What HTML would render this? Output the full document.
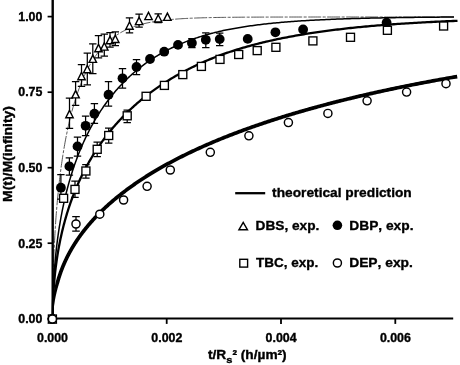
<!DOCTYPE html>
<html><head><meta charset="utf-8"><title>Release kinetics</title>
<style>html,body{margin:0;padding:0;background:#fff}svg{display:block}</style></head>
<body>
<svg width="460" height="365" viewBox="0 0 460 365">
<rect width="460" height="365" fill="#fff"/>
<g fill="none" stroke="#000" stroke-linejoin="round">
<path d="M52.70,318.80 L52.70,317.10 L52.70,315.16 L52.71,313.12 L52.72,311.02 L52.73,308.87 L52.74,306.69 L52.75,304.48 L52.77,302.24 L52.80,299.99 L52.82,297.72 L52.85,295.44 L52.88,293.15 L52.91,290.85 L52.95,288.54 L52.99,286.23 L53.04,283.91 L53.09,281.59 L53.14,279.26 L53.19,276.93 L53.25,274.60 L53.31,272.27 L53.38,269.94 L53.45,267.61 L53.52,265.29 L53.60,262.96 L53.68,260.64 L53.77,258.31 L53.86,256.00 L53.95,253.68 L54.04,251.37 L54.15,249.07 L54.25,246.76 L54.36,244.47 L54.47,242.18 L54.59,239.89 L54.71,237.61 L54.83,235.34 L54.96,233.07 L55.09,230.81 L55.23,228.56 L55.37,226.31 L55.52,224.08 L55.67,221.84 L55.82,219.62 L55.98,217.41 L56.14,215.20 L56.31,213.00 L56.48,210.81 L56.66,208.63 L56.84,206.45 L57.02,204.29 L57.21,202.14 L57.40,199.99 L57.60,197.85 L57.80,195.73 L58.01,193.61 L58.22,191.50 L58.43,189.41 L58.65,187.32 L58.88,185.24 L59.11,183.18 L59.34,181.12 L59.58,179.08 L59.82,177.04 L60.07,175.02 L60.32,173.01 L60.58,171.01 L60.84,169.02 L61.10,167.04 L61.37,165.07 L61.65,163.12 L61.93,161.17 L62.21,159.24 L62.50,157.32 L62.79,155.41 L63.09,153.51 L63.40,151.63 L63.70,149.75 L64.02,147.89 L64.33,146.04 L64.66,144.21 L64.98,142.38 L65.32,140.57 L65.65,138.77 L65.99,136.99 L66.34,135.21 L66.69,133.45 L67.05,131.70 L67.41,129.97 L67.78,128.25 L68.15,126.54 L68.52,124.84 L68.90,123.16 L69.29,121.49 L69.68,119.84 L70.08,118.20 L70.48,116.57 L70.88,114.95 L71.29,113.35 L71.71,111.76 L72.13,110.19 L72.55,108.63 L72.99,107.08 L73.42,105.55 L73.86,104.03 L74.31,102.53 L74.76,101.04 L75.21,99.56 L75.68,98.10 L76.14,96.65 L76.61,95.22 L77.09,93.80 L77.57,92.39 L78.06,91.00 L78.55,89.63 L79.05,88.27 L79.55,86.92 L80.06,85.59 L80.57,84.27 L81.09,82.97 L81.61,81.68 L82.14,80.41 L82.67,79.15 L83.21,77.91 L83.76,76.68 L84.30,75.46 L84.86,74.26 L85.42,73.08 L85.98,71.91 L86.55,70.76 L87.13,69.62 L87.71,68.49 L88.30,67.39 L88.89,66.29 L89.49,65.21 L90.09,64.15 L90.69,63.10 L91.31,62.07 L91.93,61.05 L92.55,60.04 L93.18,59.06 L93.81,58.08 L94.45,57.12 L95.10,56.18 L95.75,55.25 L96.40,54.33 L97.06,53.44 L97.73,52.55 L98.40,51.68 L99.08,50.82 L99.76,49.98 L100.45,49.16 L101.15,48.34 L101.85,47.55 L102.55,46.76 L103.26,45.99 L103.98,45.24 L104.70,44.50 L105.42,43.77 L106.16,43.06 L106.89,42.36 L107.64,41.67 L108.39,41.00 L109.14,40.34 L109.90,39.69 L110.67,39.06 L111.44,38.44 L112.21,37.83 L113.00,37.24 L113.78,36.65 L114.58,36.08 L115.38,35.53 L116.18,34.98 L116.99,34.45 L117.81,33.93 L118.63,33.42 L119.45,32.92 L120.29,32.44 L121.12,31.96 L121.97,31.50 L122.82,31.05 L123.67,30.61 L124.53,30.18 L125.40,29.76 L126.27,29.35 L127.15,28.95 L128.03,28.56 L128.92,28.18 L129.82,27.81 L130.72,27.45 L131.62,27.10 L132.54,26.76 L133.45,26.42 L134.38,26.10 L135.31,25.79 L136.24,25.48 L137.18,25.18 L138.13,24.89 L139.08,24.61 L140.04,24.34 L141.00,24.07 L141.97,23.81 L142.95,23.56 L143.93,23.32 L144.91,23.08 L145.91,22.85 L146.90,22.63 L147.91,22.42 L148.92,22.21 L149.93,22.00 L150.96,21.81 L151.98,21.62 L153.02,21.43 L154.06,21.25 L155.10,21.08 L156.15,20.91 L157.21,20.75 L158.27,20.59 L159.34,20.44 L160.41,20.30 L161.49,20.15 L162.58,20.02 L163.67,19.88 L164.77,19.76 L165.87,19.63 L166.98,19.51 L168.10,19.40 L169.22,19.29 L170.35,19.18 L171.48,19.07 L172.62,18.97 L173.76,18.88 L174.91,18.78 L176.07,18.69 L177.23,18.61 L178.40,18.52 L179.58,18.44 L180.76,18.37 L181.94,18.29 L183.14,18.22 L184.34,18.15 L185.54,18.09 L186.75,18.02 L187.97,17.96 L189.19,17.90 L190.42,17.84 L191.65,17.79 L192.89,17.74 L194.14,17.69 L195.39,17.64 L196.65,17.59 L197.92,17.55 L199.19,17.51 L200.46,17.46 L201.75,17.43 L203.04,17.39 L204.33,17.35 L205.63,17.32 L206.94,17.28 L208.25,17.25 L209.57,17.22 L210.90,17.19 L212.23,17.16 L213.57,17.14 L214.91,17.11 L216.26,17.09 L217.62,17.06 L218.98,17.04 L220.35,17.02 L221.72,17.00 L223.10,16.98 L224.49,16.96 L225.88,16.94 L227.28,16.93 L228.68,16.91 L230.09,16.90 L231.51,16.88 L232.93,16.87 L234.36,16.85 L235.80,16.84 L237.24,16.83 L238.69,16.82 L240.14,16.81 L241.60,16.79 L243.07,16.78 L244.54,16.77 L246.02,16.77 L247.51,16.76 L249.00,16.75 L250.49,16.74 L252.00,16.73 L253.51,16.73 L255.02,16.72 L256.55,16.71 L258.07,16.71 L259.61,16.70 L261.15,16.70 L262.70,16.69 L264.25,16.69 L265.81,16.68 L267.38,16.68 L268.95,16.67 L270.53,16.67 L272.11,16.66 L273.70,16.66 L275.30,16.66 L276.90,16.65 L278.51,16.65 L280.13,16.65 L281.75,16.65 L283.38,16.64 L285.02,16.64 L286.66,16.64 L288.30,16.64 L289.96,16.63 L291.62,16.63 L293.28,16.63 L294.96,16.63 L296.64,16.63 L298.32,16.62 L300.01,16.62 L301.71,16.62 L303.42,16.62 L305.13,16.62 L306.84,16.62 L308.57,16.62 L310.30,16.62 L312.03,16.62 L313.78,16.61 L315.53,16.61 L317.28,16.61 L319.04,16.61 L320.81,16.61 L322.59,16.61 L324.37,16.61 L326.15,16.61 L327.95,16.61 L329.75,16.61 L331.55,16.61 L333.37,16.61 L335.19,16.61 L337.01,16.61 L338.84,16.61 L340.68,16.61 L342.53,16.61 L344.38,16.60 L346.24,16.60 L348.10,16.60 L349.97,16.60 L351.85,16.60 L353.73,16.60 L355.62,16.60 L357.52,16.60 L359.42,16.60 L361.33,16.60 L363.25,16.60 L365.17,16.60 L367.10,16.60 L369.03,16.60 L370.98,16.60 L372.92,16.60 L374.88,16.60 L376.84,16.60 L378.81,16.60 L380.78,16.60 L382.76,16.60 L384.75,16.60 L386.74,16.60 L388.74,16.60 L390.75,16.60 L392.76,16.60 L394.78,16.60 L396.81,16.60 L398.84,16.60 L400.88,16.60 L402.93,16.60 L404.98,16.60 L407.04,16.60 L409.10,16.60 L411.18,16.60 L413.26,16.60 L415.34,16.60 L417.43,16.60 L419.53,16.60 L421.64,16.60 L423.75,16.60 L425.87,16.60 L427.99,16.60 L430.12,16.60 L432.26,16.60 L434.40,16.60 L436.55,16.60 L438.71,16.60 L440.88,16.60 L443.05,16.60 L445.22,16.60 L447.41,16.60 L449.60,16.60 L451.80,16.60 L454.00,16.60" stroke="#2a2a2a" stroke-width="0.8" stroke-dasharray="13 1.5 3 1.5" transform="translate(0,0.4)"/>
<path d="M52.70,318.80 L52.70,317.73 L52.70,316.51 L52.71,315.22 L52.72,313.89 L52.73,312.54 L52.74,311.15 L52.75,309.75 L52.77,308.33 L52.80,306.90 L52.82,305.46 L52.85,304.00 L52.88,302.54 L52.91,301.06 L52.95,299.58 L52.99,298.09 L53.04,296.60 L53.09,295.10 L53.14,293.60 L53.19,292.09 L53.25,290.58 L53.31,289.07 L53.38,287.55 L53.45,286.03 L53.52,284.51 L53.60,282.99 L53.68,281.46 L53.77,279.94 L53.86,278.41 L53.95,276.88 L54.04,275.35 L54.15,273.83 L54.25,272.30 L54.36,270.77 L54.47,269.24 L54.59,267.71 L54.71,266.18 L54.83,264.65 L54.96,263.13 L55.09,261.60 L55.23,260.08 L55.37,258.55 L55.52,257.03 L55.67,255.51 L55.82,253.99 L55.98,252.47 L56.14,250.96 L56.31,249.44 L56.48,247.93 L56.66,246.42 L56.84,244.91 L57.02,243.40 L57.21,241.90 L57.40,240.40 L57.60,238.90 L57.80,237.40 L58.01,235.90 L58.22,234.41 L58.43,232.92 L58.65,231.44 L58.88,229.95 L59.11,228.47 L59.34,226.99 L59.58,225.52 L59.82,224.05 L60.07,222.58 L60.32,221.11 L60.58,219.65 L60.84,218.19 L61.10,216.74 L61.37,215.28 L61.65,213.83 L61.93,212.39 L62.21,210.95 L62.50,209.51 L62.79,208.07 L63.09,206.64 L63.40,205.22 L63.70,203.79 L64.02,202.37 L64.33,200.96 L64.66,199.54 L64.98,198.14 L65.32,196.73 L65.65,195.33 L65.99,193.93 L66.34,192.54 L66.69,191.15 L67.05,189.77 L67.41,188.39 L67.78,187.01 L68.15,185.64 L68.52,184.28 L68.90,182.91 L69.29,181.56 L69.68,180.20 L70.08,178.85 L70.48,177.51 L70.88,176.17 L71.29,174.83 L71.71,173.50 L72.13,172.17 L72.55,170.85 L72.99,169.53 L73.42,168.22 L73.86,166.91 L74.31,165.61 L74.76,164.31 L75.21,163.01 L75.68,161.72 L76.14,160.44 L76.61,159.16 L77.09,157.89 L77.57,156.62 L78.06,155.35 L78.55,154.09 L79.05,152.84 L79.55,151.59 L80.06,150.34 L80.57,149.10 L81.09,147.87 L81.61,146.64 L82.14,145.41 L82.67,144.19 L83.21,142.98 L83.76,141.77 L84.30,140.57 L84.86,139.37 L85.42,138.18 L85.98,136.99 L86.55,135.81 L87.13,134.63 L87.71,133.46 L88.30,132.29 L88.89,131.13 L89.49,129.98 L90.09,128.83 L90.69,127.68 L91.31,126.54 L91.93,125.41 L92.55,124.28 L93.18,123.16 L93.81,122.05 L94.45,120.94 L95.10,119.83 L95.75,118.73 L96.40,117.64 L97.06,116.55 L97.73,115.47 L98.40,114.39 L99.08,113.32 L99.76,112.26 L100.45,111.20 L101.15,110.14 L101.85,109.10 L102.55,108.05 L103.26,107.02 L103.98,105.99 L104.70,104.97 L105.42,103.95 L106.16,102.94 L106.89,101.93 L107.64,100.93 L108.39,99.94 L109.14,98.95 L109.90,97.97 L110.67,97.00 L111.44,96.03 L112.21,95.06 L113.00,94.11 L113.78,93.16 L114.58,92.21 L115.38,91.28 L116.18,90.34 L116.99,89.42 L117.81,88.50 L118.63,87.59 L119.45,86.68 L120.29,85.78 L121.12,84.89 L121.97,84.00 L122.82,83.12 L123.67,82.24 L124.53,81.38 L125.40,80.51 L126.27,79.66 L127.15,78.81 L128.03,77.97 L128.92,77.13 L129.82,76.30 L130.72,75.48 L131.62,74.66 L132.54,73.86 L133.45,73.05 L134.38,72.26 L135.31,71.47 L136.24,70.68 L137.18,69.91 L138.13,69.14 L139.08,68.37 L140.04,67.62 L141.00,66.87 L141.97,66.13 L142.95,65.39 L143.93,64.66 L144.91,63.94 L145.91,63.22 L146.90,62.51 L147.91,61.81 L148.92,61.11 L149.93,60.42 L150.96,59.74 L151.98,59.06 L153.02,58.39 L154.06,57.73 L155.10,57.08 L156.15,56.43 L157.21,55.79 L158.27,55.15 L159.34,54.52 L160.41,53.90 L161.49,53.28 L162.58,52.67 L163.67,52.07 L164.77,51.48 L165.87,50.89 L166.98,50.30 L168.10,49.73 L169.22,49.16 L170.35,48.60 L171.48,48.04 L172.62,47.49 L173.76,46.95 L174.91,46.41 L176.07,45.88 L177.23,45.36 L178.40,44.84 L179.58,44.33 L180.76,43.83 L181.94,43.33 L183.14,42.84 L184.34,42.36 L185.54,41.88 L186.75,41.41 L187.97,40.94 L189.19,40.48 L190.42,40.03 L191.65,39.58 L192.89,39.14 L194.14,38.70 L195.39,38.28 L196.65,37.85 L197.92,37.44 L199.19,37.02 L200.46,36.62 L201.75,36.22 L203.04,35.83 L204.33,35.44 L205.63,35.06 L206.94,34.68 L208.25,34.31 L209.57,33.95 L210.90,33.59 L212.23,33.24 L213.57,32.89 L214.91,32.55 L216.26,32.21 L217.62,31.88 L218.98,31.55 L220.35,31.23 L221.72,30.92 L223.10,30.60 L224.49,30.30 L225.88,30.02 L227.28,29.74 L228.68,29.46 L230.09,29.19 L231.51,28.92 L232.93,28.66 L234.36,28.40 L235.80,28.15 L237.24,27.90 L238.69,27.66 L240.14,27.42 L241.60,27.18 L243.07,26.95 L244.54,26.72 L246.02,26.50 L247.51,26.28 L249.00,26.06 L250.49,25.85 L252.00,25.64 L253.51,25.44 L255.02,25.24 L256.55,25.04 L258.07,24.85 L259.61,24.66 L261.15,24.47 L262.70,24.29 L264.25,24.11 L265.81,23.94 L267.38,23.77 L268.95,23.60 L270.53,23.43 L272.11,23.27 L273.70,23.11 L275.30,22.96 L276.90,22.81 L278.51,22.66 L280.13,22.51 L281.75,22.37 L283.38,22.23 L285.02,22.09 L286.66,21.96 L288.30,21.82 L289.96,21.69 L291.62,21.57 L293.28,21.44 L294.96,21.32 L296.64,21.21 L298.32,21.09 L300.01,20.98 L301.71,20.87 L303.42,20.76 L305.13,20.65 L306.84,20.55 L308.57,20.45 L310.30,20.35 L312.03,20.25 L313.78,20.15 L315.53,20.06 L317.28,19.97 L319.04,19.88 L320.81,19.80 L322.59,19.71 L324.37,19.63 L326.15,19.55 L327.95,19.47 L329.75,19.39 L331.55,19.32 L333.37,19.24 L335.19,19.17 L337.01,19.10 L338.84,19.03 L340.68,18.97 L342.53,18.90 L344.38,18.84 L346.24,18.78 L348.10,18.72 L349.97,18.66 L351.85,18.60 L353.73,18.54 L355.62,18.49 L357.52,18.44 L359.42,18.38 L361.33,18.33 L363.25,18.28 L365.17,18.24 L367.10,18.19 L369.03,18.14 L370.98,18.10 L372.92,18.05 L374.88,18.01 L376.84,17.97 L378.81,17.93 L380.78,17.89 L382.76,17.85 L384.75,17.82 L386.74,17.78 L388.74,17.75 L390.75,17.71 L392.76,17.68 L394.78,17.65 L396.81,17.61 L398.84,17.58 L400.88,17.55 L402.93,17.52 L404.98,17.50 L407.04,17.47 L409.10,17.44 L411.18,17.42 L413.26,17.39 L415.34,17.37 L417.43,17.34 L419.53,17.32 L421.64,17.30 L423.75,17.27 L425.87,17.25 L427.99,17.23 L430.12,17.21 L432.26,17.19 L434.40,17.17 L436.55,17.16 L438.71,17.14 L440.88,17.12 L443.05,17.10 L445.22,17.09 L447.41,17.07 L449.60,17.06 L451.80,17.04 L454.00,17.03" stroke-width="1.5"/>
<path d="M52.70,318.80 L52.70,317.95 L52.70,316.97 L52.71,315.94 L52.72,314.88 L52.73,313.80 L52.74,312.70 L52.76,311.58 L52.77,310.44 L52.80,309.29 L52.82,308.14 L52.85,306.97 L52.88,305.80 L52.92,304.61 L52.95,303.42 L53.00,302.23 L53.04,301.03 L53.09,299.83 L53.14,298.62 L53.20,297.40 L53.26,296.19 L53.32,294.97 L53.39,293.74 L53.46,292.52 L53.53,291.29 L53.61,290.06 L53.69,288.83 L53.78,287.59 L53.87,286.36 L53.96,285.12 L54.06,283.88 L54.16,282.64 L54.26,281.40 L54.37,280.16 L54.49,278.91 L54.60,277.67 L54.73,276.43 L54.85,275.18 L54.98,273.94 L55.12,272.69 L55.25,271.45 L55.40,270.21 L55.54,268.96 L55.69,267.72 L55.85,266.47 L56.01,265.23 L56.17,263.99 L56.34,262.75 L56.51,261.50 L56.69,260.26 L56.87,259.02 L57.06,257.78 L57.25,256.54 L57.44,255.31 L57.64,254.07 L57.85,252.83 L58.05,251.60 L58.27,250.37 L58.48,249.14 L58.71,247.90 L58.93,246.67 L59.16,245.45 L59.40,244.22 L59.64,242.99 L59.88,241.77 L60.13,240.55 L60.39,239.33 L60.64,238.11 L60.91,236.89 L61.18,235.68 L61.45,234.46 L61.73,233.25 L62.01,232.04 L62.29,230.83 L62.59,229.62 L62.88,228.42 L63.18,227.22 L63.49,226.02 L63.80,224.82 L64.12,223.62 L64.44,222.43 L64.76,221.23 L65.09,220.04 L65.43,218.85 L65.77,217.67 L66.11,216.48 L66.46,215.30 L66.81,214.12 L67.17,212.95 L67.54,211.77 L67.91,210.60 L68.28,209.43 L68.66,208.26 L69.04,207.10 L69.43,205.93 L69.83,204.77 L70.23,203.62 L70.63,202.46 L71.04,201.31 L71.45,200.16 L71.87,199.01 L72.30,197.87 L72.73,196.72 L73.16,195.58 L73.60,194.45 L74.05,193.31 L74.50,192.18 L74.95,191.05 L75.41,189.93 L75.88,188.80 L76.35,187.68 L76.82,186.56 L77.30,185.45 L77.79,184.34 L78.28,183.23 L78.78,182.12 L79.28,181.02 L79.78,179.92 L80.30,178.82 L80.81,177.73 L81.34,176.64 L81.86,175.55 L82.40,174.46 L82.93,173.38 L83.48,172.30 L84.03,171.22 L84.58,170.15 L85.14,169.08 L85.70,168.01 L86.27,166.95 L86.85,165.89 L87.43,164.83 L88.02,163.77 L88.61,162.72 L89.20,161.67 L89.81,160.63 L90.41,159.59 L91.03,158.55 L91.64,157.51 L92.27,156.48 L92.90,155.45 L93.53,154.43 L94.17,153.41 L94.82,152.39 L95.47,151.37 L96.12,150.36 L96.78,149.35 L97.45,148.35 L98.12,147.34 L98.80,146.34 L99.49,145.35 L100.17,144.36 L100.87,143.37 L101.57,142.38 L102.27,141.40 L102.98,140.43 L103.70,139.45 L104.42,138.48 L105.15,137.51 L105.88,136.55 L106.62,135.59 L107.37,134.63 L108.12,133.68 L108.87,132.73 L109.63,131.78 L110.40,130.84 L111.17,129.90 L111.95,128.97 L112.73,128.04 L113.52,127.11 L114.32,126.18 L115.12,125.26 L115.92,124.35 L116.73,123.43 L117.55,122.52 L118.37,121.62 L119.20,120.72 L120.04,119.82 L120.88,118.93 L121.72,118.03 L122.57,117.15 L123.43,116.27 L124.29,115.39 L125.16,114.51 L126.03,113.64 L126.91,112.77 L127.80,111.91 L128.69,111.05 L129.59,110.19 L130.49,109.34 L131.40,108.49 L132.31,107.65 L133.23,106.81 L134.16,105.97 L135.09,105.14 L136.03,104.31 L136.97,103.49 L137.92,102.67 L138.87,101.85 L139.83,101.04 L140.80,100.23 L141.77,99.42 L142.75,98.62 L143.73,97.83 L144.72,97.03 L145.72,96.25 L146.72,95.46 L147.73,94.68 L148.74,93.91 L149.76,93.13 L150.78,92.37 L151.81,91.60 L152.85,90.84 L153.89,90.09 L154.94,89.34 L155.99,88.59 L157.05,87.85 L158.12,87.11 L159.19,86.37 L160.27,85.64 L161.35,84.92 L162.44,84.20 L163.54,83.48 L164.64,82.77 L165.75,82.06 L166.86,81.35 L167.98,80.65 L169.10,79.95 L170.23,79.26 L171.37,78.58 L172.51,77.89 L173.66,77.21 L174.82,76.54 L175.98,75.87 L177.15,75.20 L178.32,74.54 L179.50,73.88 L180.68,73.23 L181.87,72.58 L183.07,71.94 L184.27,71.30 L185.48,70.66 L186.70,70.03 L187.92,69.40 L189.15,68.78 L190.38,68.16 L191.62,67.55 L192.87,66.94 L194.12,66.34 L195.37,65.74 L196.64,65.14 L197.91,64.55 L199.18,63.96 L200.47,63.38 L201.75,62.80 L203.05,62.23 L204.35,61.66 L205.65,61.09 L206.97,60.53 L208.29,59.98 L209.61,59.43 L210.94,58.88 L212.28,58.34 L213.62,57.80 L214.97,57.26 L216.32,56.74 L217.69,56.21 L219.05,55.69 L220.43,55.17 L221.81,54.66 L223.19,54.16 L224.59,53.66 L225.98,53.17 L227.39,52.70 L228.80,52.22 L230.22,51.75 L231.64,51.29 L233.07,50.82 L234.51,50.37 L235.95,49.91 L237.40,49.47 L238.85,49.02 L240.31,48.58 L241.78,48.14 L243.25,47.71 L244.73,47.28 L246.21,46.86 L247.71,46.44 L249.20,46.03 L250.71,45.62 L252.22,45.21 L253.74,44.81 L255.26,44.41 L256.79,44.01 L258.32,43.62 L259.87,43.23 L261.41,42.85 L262.97,42.47 L264.53,42.10 L266.10,41.73 L267.67,41.36 L269.25,41.00 L270.83,40.64 L272.43,40.28 L274.02,39.93 L275.63,39.59 L277.24,39.24 L278.86,38.90 L280.48,38.57 L282.11,38.24 L283.75,37.91 L285.39,37.58 L287.04,37.26 L288.70,36.95 L290.36,36.63 L292.03,36.32 L293.70,36.02 L295.38,35.72 L297.07,35.42 L298.76,35.12 L300.46,34.83 L302.17,34.54 L303.88,34.26 L305.60,33.98 L307.33,33.70 L309.06,33.42 L310.80,33.15 L312.54,32.89 L314.30,32.62 L316.05,32.36 L317.82,32.10 L319.59,31.85 L321.37,31.60 L323.15,31.35 L324.94,31.11 L326.74,30.87 L328.54,30.63 L330.35,30.39 L332.16,30.16 L333.99,29.93 L335.81,29.71 L337.65,29.49 L339.49,29.27 L341.34,29.05 L343.19,28.84 L345.06,28.63 L346.92,28.42 L348.80,28.21 L350.68,28.01 L352.56,27.81 L354.46,27.62 L356.36,27.42 L358.26,27.23 L360.18,27.04 L362.10,26.86 L364.02,26.68 L365.96,26.50 L367.89,26.32 L369.84,26.14 L371.79,25.97 L373.75,25.80 L375.72,25.63 L377.69,25.47 L379.67,25.31 L381.65,25.15 L383.64,24.99 L385.64,24.84 L387.65,24.68 L389.66,24.53 L391.67,24.39 L393.70,24.24 L395.73,24.10 L397.77,23.96 L399.81,23.82 L401.86,23.68 L403.92,23.55 L405.98,23.41 L408.05,23.28 L410.13,23.15 L412.21,23.03 L414.30,22.90 L416.40,22.78 L418.50,22.66 L420.61,22.54 L422.73,22.43 L424.85,22.31 L426.98,22.20 L429.12,22.09 L431.26,21.98 L433.41,21.88 L435.57,21.77 L437.73,21.67 L439.90,21.57 L442.08,21.47 L444.26,21.37 L446.45,21.27 L448.65,21.18 L450.85,21.08 L453.06,20.99 L455.28,20.90 L457.50,20.81" stroke-width="2.3"/>
<path d="M53.40,318.80 L53.40,318.43 L53.40,318.01 L53.41,317.56 L53.41,317.10 L53.42,316.63 L53.42,316.15 L53.43,315.66 L53.45,315.17 L53.46,314.67 L53.47,314.16 L53.49,313.65 L53.51,313.14 L53.53,312.62 L53.55,312.10 L53.58,311.57 L53.61,311.05 L53.64,310.52 L53.67,309.98 L53.70,309.45 L53.74,308.91 L53.78,308.37 L53.82,307.83 L53.86,307.28 L53.92,306.74 L53.99,306.19 L54.07,305.64 L54.15,305.10 L54.23,304.55 L54.31,304.00 L54.39,303.44 L54.48,302.89 L54.57,302.34 L54.66,301.78 L54.76,301.23 L54.85,300.67 L54.95,300.11 L55.06,299.55 L55.16,298.99 L55.27,298.44 L55.38,297.88 L55.49,297.31 L55.60,296.75 L55.72,296.19 L55.84,295.63 L55.96,295.07 L56.09,294.50 L56.22,293.94 L56.35,293.38 L56.48,292.81 L56.62,292.25 L56.76,291.68 L56.90,291.12 L57.04,290.55 L57.19,289.99 L57.34,289.42 L57.49,288.86 L57.64,288.29 L57.80,287.72 L57.96,287.16 L58.12,286.59 L58.29,286.02 L58.46,285.46 L58.63,284.89 L58.80,284.32 L58.98,283.76 L59.16,283.19 L59.34,282.63 L59.50,282.05 L59.66,281.48 L59.83,280.91 L60.00,280.33 L60.17,279.76 L60.34,279.18 L60.51,278.61 L60.69,278.03 L60.87,277.46 L61.06,276.88 L61.25,276.31 L61.44,275.73 L61.63,275.16 L61.83,274.58 L62.03,274.01 L62.23,273.43 L62.43,272.86 L62.64,272.28 L62.85,271.71 L63.06,271.13 L63.28,270.56 L63.50,269.98 L63.72,269.41 L63.95,268.83 L64.18,268.26 L64.41,267.69 L64.65,267.11 L64.88,266.54 L65.12,265.96 L65.37,265.39 L65.62,264.81 L65.87,264.24 L66.12,263.66 L66.37,263.09 L66.63,262.52 L66.90,261.94 L67.16,261.37 L67.43,260.80 L67.70,260.22 L67.98,259.65 L68.25,259.08 L68.53,258.50 L68.82,257.93 L69.11,257.36 L69.40,256.79 L69.69,256.22 L69.99,255.64 L70.29,255.07 L70.59,254.50 L70.89,253.93 L71.20,253.36 L71.52,252.79 L71.83,252.22 L72.15,251.65 L72.47,251.08 L72.80,250.51 L73.12,249.94 L73.46,249.37 L73.79,248.80 L74.13,248.23 L74.47,247.66 L74.81,247.10 L75.16,246.53 L75.51,245.96 L75.87,245.39 L76.22,244.83 L76.58,244.26 L76.95,243.69 L77.32,243.13 L77.69,242.56 L78.06,242.00 L78.44,241.43 L78.82,240.87 L79.20,240.30 L79.59,239.74 L79.98,239.18 L80.37,238.61 L80.77,238.05 L81.17,237.49 L81.57,236.93 L81.98,236.36 L82.39,235.80 L82.80,235.24 L83.22,234.68 L83.64,234.12 L84.06,233.56 L84.49,233.00 L84.92,232.44 L85.35,231.88 L85.79,231.32 L86.23,230.77 L86.67,230.21 L87.12,229.65 L87.57,229.10 L88.02,228.54 L88.48,227.98 L88.94,227.43 L89.41,226.87 L89.87,226.32 L90.35,225.76 L90.82,225.21 L91.30,224.66 L91.78,224.10 L92.26,223.55 L92.75,223.00 L93.24,222.45 L93.74,221.90 L94.24,221.35 L94.74,220.80 L95.24,220.25 L95.75,219.70 L96.26,219.15 L96.78,218.60 L97.30,218.05 L97.82,217.50 L98.35,216.96 L98.88,216.41 L99.41,215.86 L99.95,215.32 L100.49,214.77 L101.03,214.23 L101.58,213.69 L102.13,213.14 L102.68,212.60 L103.24,212.06 L103.80,211.52 L104.37,210.97 L104.94,210.43 L105.51,209.89 L106.08,209.35 L106.66,208.81 L107.25,208.27 L107.83,207.74 L108.42,207.20 L109.01,206.66 L109.61,206.12 L110.21,205.59 L110.82,205.05 L111.42,204.52 L112.03,203.98 L112.65,203.45 L113.27,202.92 L113.89,202.38 L114.52,201.85 L115.14,201.32 L115.78,200.79 L116.41,200.26 L117.05,199.73 L117.70,199.20 L118.34,198.67 L118.99,198.14 L119.65,197.61 L120.31,197.08 L120.97,196.56 L121.63,196.03 L122.30,195.51 L122.98,194.98 L123.65,194.46 L124.33,193.93 L125.02,193.41 L125.70,192.89 L126.39,192.37 L127.09,191.84 L127.79,191.32 L128.49,190.80 L129.19,190.28 L129.90,189.76 L130.62,189.25 L131.33,188.73 L132.05,188.21 L132.78,187.69 L133.50,187.18 L134.24,186.66 L134.97,186.15 L135.71,185.63 L136.45,185.12 L137.20,184.61 L137.95,184.10 L138.70,183.59 L139.46,183.07 L140.22,182.56 L140.99,182.05 L141.75,181.55 L142.53,181.04 L143.30,180.53 L144.08,180.02 L144.87,179.52 L145.65,179.01 L146.44,178.51 L147.24,178.00 L148.04,177.50 L148.84,176.99 L149.64,176.49 L150.45,175.99 L151.27,175.49 L152.08,174.99 L152.91,174.49 L153.73,173.99 L154.56,173.49 L155.39,172.99 L156.23,172.50 L157.07,172.00 L157.91,171.50 L158.76,171.01 L159.61,170.52 L160.47,170.02 L161.32,169.53 L162.19,169.04 L163.05,168.54 L163.92,168.05 L164.80,167.56 L165.68,167.07 L166.56,166.59 L167.44,166.10 L168.33,165.61 L169.23,165.12 L170.12,164.64 L171.02,164.15 L171.93,163.67 L172.84,163.18 L173.75,162.70 L174.66,162.22 L175.58,161.74 L176.51,161.25 L177.44,160.77 L178.37,160.29 L179.30,159.82 L180.24,159.34 L181.19,158.86 L182.13,158.38 L183.08,157.91 L184.04,157.43 L185.00,156.96 L185.96,156.48 L186.93,156.01 L187.90,155.54 L188.87,155.07 L189.85,154.60 L190.83,154.13 L191.81,153.66 L192.80,153.19 L193.80,152.72 L194.80,152.25 L195.80,151.79 L196.80,151.32 L197.81,150.86 L198.82,150.39 L199.84,149.93 L200.86,149.47 L201.89,149.00 L202.91,148.54 L203.95,148.08 L204.98,147.62 L206.02,147.16 L207.07,146.70 L208.12,146.25 L209.17,145.79 L210.22,145.33 L211.28,144.88 L212.35,144.43 L213.42,143.97 L214.49,143.52 L215.56,143.07 L216.64,142.62 L217.73,142.17 L218.82,141.72 L219.91,141.27 L221.00,140.82 L222.10,140.37 L223.21,139.92 L224.31,139.48 L225.42,139.03 L226.54,138.59 L227.66,138.15 L228.78,137.70 L229.91,137.26 L231.04,136.82 L232.18,136.38 L233.31,135.94 L234.46,135.50 L235.60,135.06 L236.76,134.63 L237.91,134.19 L239.07,133.76 L240.23,133.32 L241.40,132.89 L242.57,132.45 L243.75,132.02 L244.93,131.59 L246.11,131.16 L247.30,130.73 L248.49,130.30 L249.68,129.87 L250.88,129.44 L252.08,129.02 L253.29,128.59 L254.50,128.17 L255.72,127.74 L256.94,127.32 L258.16,126.90 L259.39,126.48 L260.62,126.05 L261.85,125.63 L263.09,125.22 L264.34,124.80 L265.58,124.38 L266.83,123.96 L268.09,123.55 L269.35,123.13 L270.61,122.72 L271.88,122.30 L273.15,121.89 L274.43,121.48 L275.71,121.07 L276.99,120.66 L278.28,120.25 L279.57,119.84 L280.87,119.43 L282.17,119.03 L283.47,118.62 L284.78,118.21 L286.09,117.81 L287.41,117.41 L288.73,117.00 L290.05,116.60 L291.38,116.20 L292.71,115.80 L294.05,115.40 L295.39,115.00 L296.74,114.61 L298.09,114.21 L299.44,113.81 L300.80,113.42 L302.16,113.02 L303.52,112.63 L304.89,112.24 L306.27,111.85 L307.64,111.46 L309.03,111.07 L310.41,110.68 L311.80,110.29 L313.20,109.90 L314.59,109.52 L316.00,109.13 L317.40,108.75 L318.81,108.36 L320.23,107.98 L321.65,107.60 L323.07,107.22 L324.50,106.84 L325.93,106.46 L327.36,106.08 L328.80,105.70 L330.25,105.32 L331.69,104.95 L333.15,104.57 L334.60,104.20 L336.06,103.82 L337.53,103.45 L338.99,103.08 L340.47,102.71 L341.94,102.34 L343.42,101.97 L344.91,101.60 L346.40,101.24 L347.89,100.87 L349.39,100.50 L350.89,100.14 L352.40,99.78 L353.91,99.41 L355.42,99.05 L356.94,98.69 L358.46,98.33 L359.99,97.97 L361.52,97.61 L363.05,97.26 L364.59,96.90 L366.14,96.54 L367.69,96.19 L369.24,95.83 L370.79,95.48 L372.35,95.13 L373.92,94.78 L375.49,94.43 L377.06,94.08 L378.64,93.73 L380.22,93.38 L381.80,93.04 L383.39,92.69 L384.98,92.35 L386.58,92.00 L388.18,91.66 L389.79,91.32 L391.40,90.98 L393.02,90.64 L394.64,90.30 L396.26,89.96 L397.89,89.62 L399.52,89.28 L401.15,88.95 L402.79,88.61 L404.44,88.28 L406.09,87.95 L407.74,87.61 L409.40,87.28 L411.06,86.95 L412.72,86.62 L414.39,86.29 L416.07,85.97 L417.74,85.64 L419.43,85.31 L421.11,84.99 L422.80,84.67 L424.50,84.34 L426.20,84.02 L427.90,83.70 L429.61,83.38 L431.32,83.06 L433.04,82.74 L434.76,82.42 L436.48,82.11 L438.21,81.79 L439.94,81.48 L441.68,81.16 L443.42,80.85 L445.17,80.54 L446.92,80.23 L448.68,79.92 L450.43,79.61 L452.20,79.30 L453.96,78.99 L455.74,78.69 L457.51,78.38 L456.89,74.74 L455.11,75.04 L453.33,75.35 L451.56,75.66 L449.80,75.97 L448.03,76.28 L446.28,76.59 L444.52,76.90 L442.77,77.21 L441.03,77.52 L439.29,77.84 L437.55,78.15 L435.82,78.47 L434.09,78.79 L432.36,79.10 L430.64,79.42 L428.93,79.74 L427.22,80.06 L425.51,80.39 L423.81,80.71 L422.11,81.03 L420.41,81.36 L418.72,81.68 L417.04,82.01 L415.36,82.34 L413.68,82.66 L412.01,82.99 L410.34,83.32 L408.67,83.65 L407.01,83.99 L405.36,84.32 L403.70,84.65 L402.05,84.99 L400.41,85.32 L398.77,85.66 L397.14,86.00 L395.50,86.34 L393.88,86.67 L392.26,87.01 L390.64,87.36 L389.02,87.70 L387.41,88.04 L385.81,88.38 L384.20,88.73 L382.61,89.07 L381.01,89.42 L379.42,89.77 L377.84,90.12 L376.26,90.47 L374.68,90.82 L373.11,91.17 L371.54,91.52 L369.98,91.87 L368.42,92.23 L366.86,92.58 L365.31,92.94 L363.76,93.29 L362.22,93.65 L360.68,94.01 L359.14,94.37 L357.61,94.73 L356.09,95.09 L354.56,95.45 L353.05,95.82 L351.53,96.18 L350.02,96.54 L348.51,96.91 L347.01,97.28 L345.52,97.64 L344.02,98.01 L342.53,98.38 L341.05,98.75 L339.57,99.12 L338.09,99.49 L336.62,99.87 L335.15,100.24 L333.68,100.61 L332.22,100.99 L330.77,101.37 L329.31,101.74 L327.87,102.12 L326.42,102.50 L324.98,102.88 L323.55,103.26 L322.11,103.64 L320.69,104.02 L319.26,104.41 L317.84,104.79 L316.43,105.18 L315.02,105.56 L313.61,105.95 L312.21,106.34 L310.81,106.73 L309.41,107.11 L308.02,107.51 L306.64,107.90 L305.25,108.29 L303.88,108.68 L302.50,109.08 L301.13,109.47 L299.76,109.87 L298.40,110.26 L297.04,110.66 L295.69,111.06 L294.34,111.46 L292.99,111.86 L291.65,112.26 L290.32,112.66 L288.98,113.06 L287.65,113.46 L286.33,113.87 L285.01,114.27 L283.69,114.68 L282.37,115.09 L281.07,115.49 L279.76,115.90 L278.46,116.31 L277.16,116.72 L275.87,117.13 L274.58,117.54 L273.29,117.96 L272.01,118.37 L270.74,118.78 L269.46,119.20 L268.19,119.62 L266.93,120.03 L265.67,120.45 L264.41,120.87 L263.16,121.29 L261.91,121.71 L260.66,122.13 L259.42,122.55 L258.19,122.98 L256.95,123.40 L255.73,123.82 L254.50,124.25 L253.28,124.68 L252.06,125.10 L250.85,125.53 L249.64,125.96 L248.44,126.39 L247.24,126.82 L246.04,127.25 L244.85,127.68 L243.66,128.11 L242.47,128.55 L241.29,128.98 L240.11,129.42 L238.94,129.85 L237.77,130.29 L236.61,130.73 L235.45,131.17 L234.29,131.61 L233.13,132.05 L231.99,132.49 L230.84,132.93 L229.70,133.37 L228.56,133.82 L227.43,134.26 L226.30,134.71 L225.17,135.15 L224.05,135.60 L222.93,136.05 L221.82,136.49 L220.71,136.94 L219.60,137.39 L218.50,137.84 L217.40,138.30 L216.31,138.75 L215.22,139.20 L214.13,139.65 L213.05,140.11 L211.97,140.57 L210.90,141.02 L209.83,141.48 L208.76,141.94 L207.70,142.40 L206.64,142.85 L205.59,143.32 L204.53,143.78 L203.49,144.24 L202.44,144.70 L201.40,145.16 L200.37,145.63 L199.34,146.09 L198.31,146.56 L197.29,147.03 L196.27,147.49 L195.25,147.96 L194.24,148.43 L193.23,148.90 L192.22,149.37 L191.22,149.84 L190.23,150.31 L189.23,150.79 L188.25,151.26 L187.26,151.73 L186.28,152.21 L185.30,152.69 L184.33,153.16 L183.36,153.64 L182.39,154.12 L181.43,154.60 L180.47,155.08 L179.52,155.56 L178.57,156.04 L177.62,156.52 L176.68,157.00 L175.74,157.49 L174.80,157.97 L173.87,158.46 L172.94,158.94 L172.02,159.43 L171.10,159.92 L170.18,160.40 L169.27,160.89 L168.36,161.38 L167.46,161.87 L166.56,162.36 L165.66,162.85 L164.77,163.35 L163.88,163.84 L162.99,164.33 L162.11,164.83 L161.23,165.32 L160.36,165.82 L159.49,166.32 L158.62,166.81 L157.76,167.31 L156.90,167.81 L156.04,168.31 L155.19,168.81 L154.34,169.31 L153.50,169.82 L152.66,170.32 L151.82,170.82 L150.99,171.33 L150.16,171.83 L149.33,172.34 L148.51,172.84 L147.69,173.35 L146.88,173.86 L146.07,174.37 L145.26,174.87 L144.46,175.38 L143.66,175.89 L142.86,176.41 L142.07,176.92 L141.28,177.43 L140.50,177.94 L139.72,178.46 L138.94,178.97 L138.16,179.49 L137.39,180.00 L136.63,180.52 L135.87,181.04 L135.11,181.56 L134.35,182.08 L133.60,182.59 L132.85,183.11 L132.11,183.64 L131.37,184.16 L130.63,184.68 L129.90,185.20 L129.17,185.73 L128.44,186.25 L127.72,186.78 L127.00,187.30 L126.29,187.83 L125.58,188.35 L124.87,188.88 L124.17,189.41 L123.47,189.94 L122.77,190.47 L122.08,191.00 L121.39,191.53 L120.70,192.06 L120.02,192.59 L119.34,193.13 L118.67,193.66 L118.00,194.19 L117.33,194.73 L116.67,195.26 L116.01,195.80 L115.35,196.34 L114.70,196.87 L114.05,197.41 L113.40,197.95 L112.76,198.49 L112.12,199.03 L111.49,199.57 L110.86,200.11 L110.23,200.65 L109.60,201.19 L108.98,201.74 L108.37,202.28 L107.75,202.82 L107.14,203.37 L106.54,203.91 L105.93,204.46 L105.33,205.01 L104.74,205.55 L104.15,206.10 L103.56,206.65 L102.97,207.20 L102.39,207.75 L101.81,208.30 L101.24,208.85 L100.67,209.40 L100.10,209.95 L99.54,210.50 L98.98,211.06 L98.42,211.61 L97.87,212.16 L97.32,212.72 L96.77,213.27 L96.23,213.83 L95.69,214.39 L95.15,214.94 L94.62,215.50 L94.09,216.06 L93.56,216.62 L93.04,217.18 L92.52,217.74 L92.01,218.30 L91.50,218.86 L90.99,219.42 L90.49,219.98 L89.98,220.54 L89.49,221.11 L88.99,221.67 L88.50,222.23 L88.01,222.80 L87.53,223.36 L87.05,223.93 L86.57,224.49 L86.10,225.06 L85.63,225.63 L85.16,226.19 L84.70,226.76 L84.24,227.33 L83.78,227.90 L83.33,228.47 L82.88,229.04 L82.43,229.61 L81.99,230.18 L81.55,230.75 L81.12,231.32 L80.68,231.89 L80.25,232.47 L79.83,233.04 L79.40,233.61 L78.99,234.19 L78.57,234.76 L78.16,235.34 L77.75,235.91 L77.34,236.49 L76.94,237.06 L76.54,237.64 L76.14,238.22 L75.75,238.79 L75.36,239.37 L74.98,239.95 L74.60,240.53 L74.22,241.11 L73.84,241.69 L73.47,242.27 L73.10,242.85 L72.73,243.43 L72.37,244.01 L72.01,244.59 L71.65,245.17 L71.30,245.75 L70.95,246.33 L70.61,246.92 L70.26,247.50 L69.92,248.08 L69.59,248.67 L69.25,249.25 L68.92,249.84 L68.60,250.42 L68.27,251.00 L67.95,251.59 L67.64,252.18 L67.32,252.76 L67.01,253.35 L66.70,253.93 L66.40,254.52 L66.10,255.11 L65.80,255.69 L65.51,256.28 L65.22,256.87 L64.93,257.46 L64.64,258.04 L64.36,258.63 L64.08,259.22 L63.81,259.81 L63.53,260.40 L63.26,260.99 L63.00,261.58 L62.74,262.16 L62.48,262.75 L62.22,263.34 L61.97,263.93 L61.72,264.52 L61.47,265.11 L61.22,265.70 L60.98,266.29 L60.74,266.88 L60.51,267.47 L60.28,268.06 L60.05,268.66 L59.82,269.25 L59.60,269.84 L59.38,270.43 L59.16,271.02 L58.95,271.61 L58.74,272.20 L58.53,272.79 L58.33,273.38 L58.13,273.97 L57.93,274.56 L57.73,275.15 L57.54,275.75 L57.35,276.34 L57.16,276.93 L56.98,277.52 L56.80,278.11 L56.62,278.70 L56.45,279.29 L56.27,279.88 L56.10,280.47 L55.94,281.06 L55.78,281.65 L55.65,282.25 L55.52,282.84 L55.39,283.44 L55.26,284.03 L55.14,284.63 L55.02,285.22 L54.90,285.81 L54.79,286.41 L54.68,287.00 L54.57,287.59 L54.46,288.18 L54.36,288.77 L54.26,289.36 L54.16,289.95 L54.07,290.54 L53.98,291.13 L53.89,291.71 L53.80,292.30 L53.72,292.89 L53.64,293.47 L53.56,294.05 L53.48,294.64 L53.41,295.22 L53.34,295.80 L53.27,296.38 L53.21,296.96 L53.15,297.54 L53.09,298.12 L53.03,298.69 L52.98,299.27 L52.92,299.84 L52.88,300.41 L52.83,300.98 L52.78,301.55 L52.74,302.12 L52.70,302.69 L52.67,303.26 L52.63,303.82 L52.60,304.38 L52.57,304.94 L52.54,305.50 L52.52,306.06 L52.50,306.62 L52.46,307.17 L52.42,307.72 L52.38,308.27 L52.34,308.81 L52.31,309.36 L52.27,309.90 L52.24,310.44 L52.21,310.97 L52.18,311.50 L52.16,312.03 L52.13,312.56 L52.11,313.08 L52.09,313.60 L52.07,314.12 L52.06,314.63 L52.05,315.13 L52.03,315.63 L52.02,316.13 L52.02,316.61 L52.01,317.09 L52.01,317.55 L52.00,318.00 L52.00,318.43 L52.00,318.80 Z" stroke="none" fill="#000"/>
</g>
<g stroke="#000" fill="none">
<line x1="52.7" y1="0" x2="52.7" y2="319.6" stroke-width="2.4"/>
<line x1="52" y1="318.5" x2="453.2" y2="318.5" stroke-width="2.1"/>
<line x1="47.6" y1="318.8" x2="52" y2="318.8" stroke-width="1.7"/>
<line x1="47.6" y1="243.2" x2="52" y2="243.2" stroke-width="1.7"/>
<line x1="47.6" y1="167.7" x2="52" y2="167.7" stroke-width="1.7"/>
<line x1="47.6" y1="92.2" x2="52" y2="92.2" stroke-width="1.7"/>
<line x1="47.6" y1="16.6" x2="52" y2="16.6" stroke-width="1.7"/>
<line x1="166.7" y1="319" x2="166.7" y2="323.9" stroke-width="1.8"/>
<line x1="281.0" y1="319" x2="281.0" y2="323.9" stroke-width="1.8"/>
<line x1="395.3" y1="319" x2="395.3" y2="323.9" stroke-width="1.8"/>
</g>
<g>
<path d="M69.5,98.0 V128.4 M65.8,98.0 H73.2 M65.8,128.4 H73.2" stroke="#000" stroke-width="1.25" fill="none"/>
<path d="M75.6,81.5 V105.3 M71.9,81.5 H79.3 M71.9,105.3 H79.3" stroke="#000" stroke-width="1.25" fill="none"/>
<path d="M81.5,64.5 V86.4 M77.8,64.5 H85.2 M77.8,86.4 H85.2" stroke="#000" stroke-width="1.25" fill="none"/>
<path d="M87.3,53.0 V84.8 M83.6,53.0 H91.0 M83.6,84.8 H91.0" stroke="#000" stroke-width="1.25" fill="none"/>
<path d="M92.8,43.9 V73.6 M89.1,43.9 H96.5 M89.1,73.6 H96.5" stroke="#000" stroke-width="1.25" fill="none"/>
<path d="M98.5,35.7 V57.9 M94.8,35.7 H102.2 M94.8,57.9 H102.2" stroke="#000" stroke-width="1.25" fill="none"/>
<path d="M104.3,34.0 V56.0 M100.6,34.0 H108.0 M100.6,56.0 H108.0" stroke="#000" stroke-width="1.25" fill="none"/>
<path d="M110.0,32.5 V47.0 M106.3,32.5 H113.7 M106.3,47.0 H113.7" stroke="#000" stroke-width="1.25" fill="none"/>
<path d="M115.3,31.9 V45.5 M111.6,31.9 H119.0 M111.6,45.5 H119.0" stroke="#000" stroke-width="1.25" fill="none"/>
<path d="M129.5,17.8 V32.9 M125.8,17.8 H133.2 M125.8,32.9 H133.2" stroke="#000" stroke-width="1.25" fill="none"/>
<path d="M139.1,14.2 V27.0 M135.4,14.2 H142.8 M135.4,27.0 H142.8" stroke="#000" stroke-width="1.25" fill="none"/>
<path d="M158.2,13.8 V22.5 M154.5,13.8 H161.9 M154.5,22.5 H161.9" stroke="#000" stroke-width="1.25" fill="none"/>
<path d="M69.5,110.4 L73.2,117.7 L65.8,117.7 Z" fill="#fff" stroke="#000" stroke-width="1.4" stroke-linejoin="miter"/>
<path d="M75.6,90.6 L79.3,97.9 L71.9,97.9 Z" fill="#fff" stroke="#000" stroke-width="1.4" stroke-linejoin="miter"/>
<path d="M81.5,72.4 L85.2,79.7 L77.8,79.7 Z" fill="#fff" stroke="#000" stroke-width="1.4" stroke-linejoin="miter"/>
<path d="M87.3,65.4 L91.0,72.7 L83.6,72.7 Z" fill="#fff" stroke="#000" stroke-width="1.4" stroke-linejoin="miter"/>
<path d="M92.8,55.1 L96.5,62.4 L89.1,62.4 Z" fill="#fff" stroke="#000" stroke-width="1.4" stroke-linejoin="miter"/>
<path d="M98.5,44.4 L102.2,51.7 L94.8,51.7 Z" fill="#fff" stroke="#000" stroke-width="1.4" stroke-linejoin="miter"/>
<path d="M104.3,42.8 L108.0,50.1 L100.6,50.1 Z" fill="#fff" stroke="#000" stroke-width="1.4" stroke-linejoin="miter"/>
<path d="M110.0,36.4 L113.7,43.7 L106.3,43.7 Z" fill="#fff" stroke="#000" stroke-width="1.4" stroke-linejoin="miter"/>
<path d="M115.3,35.2 L119.0,42.5 L111.6,42.5 Z" fill="#fff" stroke="#000" stroke-width="1.4" stroke-linejoin="miter"/>
<path d="M129.5,22.0 L133.2,29.3 L125.8,29.3 Z" fill="#fff" stroke="#000" stroke-width="1.4" stroke-linejoin="miter"/>
<path d="M139.1,17.3 L142.8,24.6 L135.4,24.6 Z" fill="#fff" stroke="#000" stroke-width="1.4" stroke-linejoin="miter"/>
<path d="M148.5,12.3 L152.2,19.6 L144.8,19.6 Z" fill="#fff" stroke="#000" stroke-width="1.4" stroke-linejoin="miter"/>
<path d="M158.2,14.7 L161.9,22.0 L154.5,22.0 Z" fill="#fff" stroke="#000" stroke-width="1.4" stroke-linejoin="miter"/>
<path d="M167.4,13.1 L171.1,20.4 L163.7,20.4 Z" fill="#fff" stroke="#000" stroke-width="1.4" stroke-linejoin="miter"/>
<path d="M52.4,315.6 L56.1,322.9 L48.7,322.9 Z" fill="#fff" stroke="#000" stroke-width="1.4" stroke-linejoin="miter"/>
</g>
<g>
<path d="M60.9,174.7 V199.0 M57.2,174.7 H64.6 M57.2,199.0 H64.6" stroke="#000" stroke-width="1.25" fill="none"/>
<path d="M69.4,157.9 V175.0 M65.7,157.9 H73.1 M65.7,175.0 H73.1" stroke="#000" stroke-width="1.25" fill="none"/>
<path d="M77.5,137.0 V156.0 M73.8,137.0 H81.2 M73.8,156.0 H81.2" stroke="#000" stroke-width="1.25" fill="none"/>
<path d="M85.6,116.0 V135.5 M81.9,116.0 H89.3 M81.9,135.5 H89.3" stroke="#000" stroke-width="1.25" fill="none"/>
<path d="M94.4,103.7 V123.4 M90.7,103.7 H98.1 M90.7,123.4 H98.1" stroke="#000" stroke-width="1.25" fill="none"/>
<path d="M108.5,81.5 V106.2 M104.8,81.5 H112.2 M104.8,106.2 H112.2" stroke="#000" stroke-width="1.25" fill="none"/>
<path d="M122.5,68.5 V88.0 M118.8,68.5 H126.2 M118.8,88.0 H126.2" stroke="#000" stroke-width="1.25" fill="none"/>
<path d="M136.5,59.5 V74.5 M132.8,59.5 H140.2 M132.8,74.5 H140.2" stroke="#000" stroke-width="1.25" fill="none"/>
<path d="M191.9,38.7 V47.7 M188.2,38.7 H195.6 M188.2,47.7 H195.6" stroke="#000" stroke-width="1.25" fill="none"/>
<path d="M205.8,32.8 V47.5 M202.1,32.8 H209.5 M202.1,47.5 H209.5" stroke="#000" stroke-width="1.25" fill="none"/>
<path d="M219.7,33.0 V45.5 M216.0,33.0 H223.4 M216.0,45.5 H223.4" stroke="#000" stroke-width="1.25" fill="none"/>
<circle cx="60.9" cy="187.7" r="4.9" fill="#000"/>
<circle cx="69.4" cy="166.4" r="4.9" fill="#000"/>
<circle cx="77.5" cy="146.4" r="4.9" fill="#000"/>
<circle cx="85.6" cy="125.8" r="4.9" fill="#000"/>
<circle cx="94.4" cy="113.7" r="4.9" fill="#000"/>
<circle cx="108.5" cy="94.7" r="4.9" fill="#000"/>
<circle cx="122.5" cy="78.3" r="4.9" fill="#000"/>
<circle cx="136.5" cy="67.0" r="4.9" fill="#000"/>
<circle cx="150.0" cy="59.0" r="4.9" fill="#000"/>
<circle cx="164.2" cy="51.7" r="4.9" fill="#000"/>
<circle cx="178.0" cy="44.9" r="4.9" fill="#000"/>
<circle cx="191.9" cy="43.0" r="4.9" fill="#000"/>
<circle cx="205.8" cy="39.8" r="4.9" fill="#000"/>
<circle cx="219.7" cy="39.1" r="4.9" fill="#000"/>
<circle cx="247.7" cy="38.9" r="4.9" fill="#000"/>
<circle cx="275.4" cy="32.3" r="4.9" fill="#000"/>
<circle cx="303.1" cy="29.5" r="4.9" fill="#000"/>
<circle cx="386.6" cy="22.7" r="4.9" fill="#000"/>
<circle cx="52.4" cy="319.0" r="4.9" fill="#000"/>
</g>
<g>
<path d="M75.0,181.2 V197.4 M71.3,181.2 H78.7 M71.3,197.4 H78.7" stroke="#000" stroke-width="1.25" fill="none"/>
<path d="M85.9,164.5 V178.0 M82.2,164.5 H89.6 M82.2,178.0 H89.6" stroke="#000" stroke-width="1.25" fill="none"/>
<path d="M97.2,142.0 V156.5 M93.5,142.0 H100.9 M93.5,156.5 H100.9" stroke="#000" stroke-width="1.25" fill="none"/>
<path d="M108.7,128.0 V143.0 M105.0,128.0 H112.4 M105.0,143.0 H112.4" stroke="#000" stroke-width="1.25" fill="none"/>
<path d="M127.2,110.0 V122.5 M123.5,110.0 H130.9 M123.5,122.5 H130.9" stroke="#000" stroke-width="1.25" fill="none"/>
<rect x="59.6" y="194.3" width="8" height="8" fill="#fff" stroke="#000" stroke-width="1.35"/>
<rect x="71.0" y="185.4" width="8" height="8" fill="#fff" stroke="#000" stroke-width="1.35"/>
<rect x="81.9" y="167.0" width="8" height="8" fill="#fff" stroke="#000" stroke-width="1.35"/>
<rect x="93.2" y="145.3" width="8" height="8" fill="#fff" stroke="#000" stroke-width="1.35"/>
<rect x="104.7" y="131.5" width="8" height="8" fill="#fff" stroke="#000" stroke-width="1.35"/>
<rect x="123.2" y="111.8" width="8" height="8" fill="#fff" stroke="#000" stroke-width="1.35"/>
<rect x="142.1" y="92.3" width="8" height="8" fill="#fff" stroke="#000" stroke-width="1.35"/>
<rect x="160.4" y="81.4" width="8" height="8" fill="#fff" stroke="#000" stroke-width="1.35"/>
<rect x="178.8" y="70.6" width="8" height="8" fill="#fff" stroke="#000" stroke-width="1.35"/>
<rect x="197.4" y="62.4" width="8" height="8" fill="#fff" stroke="#000" stroke-width="1.35"/>
<rect x="216.0" y="55.4" width="8" height="8" fill="#fff" stroke="#000" stroke-width="1.35"/>
<rect x="234.7" y="50.5" width="8" height="8" fill="#fff" stroke="#000" stroke-width="1.35"/>
<rect x="253.2" y="46.6" width="8" height="8" fill="#fff" stroke="#000" stroke-width="1.35"/>
<rect x="271.9" y="43.3" width="8" height="8" fill="#fff" stroke="#000" stroke-width="1.35"/>
<rect x="308.9" y="36.9" width="8" height="8" fill="#fff" stroke="#000" stroke-width="1.35"/>
<rect x="346.5" y="33.3" width="8" height="8" fill="#fff" stroke="#000" stroke-width="1.35"/>
<rect x="383.4" y="26.3" width="8" height="8" fill="#fff" stroke="#000" stroke-width="1.35"/>
<rect x="439.6" y="22.0" width="8" height="8" fill="#fff" stroke="#000" stroke-width="1.35"/>
<rect x="48.4" y="315.0" width="8" height="8" fill="#fff" stroke="#000" stroke-width="1.35"/>
</g>
<g>
<path d="M76.0,216.5 V231.0 M72.2,216.5 H79.8 M72.2,231.0 H79.8" stroke="#000" stroke-width="1.25" fill="none"/>
<circle cx="76.0" cy="224.0" r="4.05" fill="#fff" stroke="#000" stroke-width="1.45"/>
<circle cx="99.8" cy="214.2" r="4.05" fill="#fff" stroke="#000" stroke-width="1.45"/>
<circle cx="123.6" cy="200.0" r="4.05" fill="#fff" stroke="#000" stroke-width="1.45"/>
<circle cx="147.1" cy="186.3" r="4.05" fill="#fff" stroke="#000" stroke-width="1.45"/>
<circle cx="170.3" cy="170.0" r="4.05" fill="#fff" stroke="#000" stroke-width="1.45"/>
<circle cx="210.3" cy="152.3" r="4.05" fill="#fff" stroke="#000" stroke-width="1.45"/>
<circle cx="248.9" cy="135.8" r="4.05" fill="#fff" stroke="#000" stroke-width="1.45"/>
<circle cx="288.4" cy="122.6" r="4.05" fill="#fff" stroke="#000" stroke-width="1.45"/>
<circle cx="327.9" cy="113.4" r="4.05" fill="#fff" stroke="#000" stroke-width="1.45"/>
<circle cx="367.1" cy="100.8" r="4.05" fill="#fff" stroke="#000" stroke-width="1.45"/>
<circle cx="406.6" cy="92.1" r="4.05" fill="#fff" stroke="#000" stroke-width="1.45"/>
<circle cx="446.0" cy="83.7" r="4.05" fill="#fff" stroke="#000" stroke-width="1.45"/>
<circle cx="52.4" cy="319.0" r="4.05" fill="#fff" stroke="#000" stroke-width="1.45"/>
</g>
<g font-family="'Liberation Sans', Arial, Helvetica, sans-serif" font-weight="bold" fill="#000" stroke="#000" stroke-width="0.35" style="font-kerning:none">
<text transform="translate(42.40,323.05) scale(1.0000,1)" font-size="12.4px" text-anchor="end">0.00</text>
<text transform="translate(42.40,247.50) scale(1.0000,1)" font-size="12.4px" text-anchor="end">0.25</text>
<text transform="translate(42.40,171.95) scale(1.0000,1)" font-size="12.4px" text-anchor="end">0.50</text>
<text transform="translate(42.40,96.40) scale(1.0000,1)" font-size="12.4px" text-anchor="end">0.75</text>
<text transform="translate(42.40,20.85) scale(1.0000,1)" font-size="12.4px" text-anchor="end">1.00</text>
<text transform="translate(52.50,341.90) scale(1.0000,1)" font-size="12.4px" text-anchor="middle">0.000</text>
<text transform="translate(166.80,341.90) scale(1.0000,1)" font-size="12.4px" text-anchor="middle">0.002</text>
<text transform="translate(281.10,341.90) scale(1.0000,1)" font-size="12.4px" text-anchor="middle">0.004</text>
<text transform="translate(395.40,341.90) scale(1.0000,1)" font-size="12.4px" text-anchor="middle">0.006</text>
<text transform="translate(208.00,359.40) scale(1.1320,1)" font-size="12.1px" text-anchor="start">t/R<tspan font-size="9.8px" dy="3.6">s</tspan><tspan dy="-3.6">² (h/µm²)</tspan></text>
<text transform="translate(12.10,201.90) rotate(-90) scale(1.0400,1)" font-size="13.4px" text-anchor="start">M(t)/M(infinity)</text>
<text transform="translate(272.10,197.10) scale(1.0330,1)" font-size="13.3px" text-anchor="start">theoretical prediction</text>
<text transform="translate(255.60,230.00) scale(1.0280,1)" font-size="13.3px" text-anchor="start">DBS, exp.</text>
<text transform="translate(349.30,230.00) scale(1.0350,1)" font-size="13.3px" text-anchor="start">DBP, exp.</text>
<text transform="translate(256.10,267.00) scale(1.0150,1)" font-size="13.3px" text-anchor="start">TBC, exp.</text>
<text transform="translate(349.20,267.00) scale(1.0380,1)" font-size="13.3px" text-anchor="start">DEP, exp.</text>
</g>
<line x1="235.2" y1="193.2" x2="265.2" y2="193.2" stroke="#000" stroke-width="2.3"/>
<path d="M243.2,222.3 L247.5,229.8 L238.9,229.8 Z" fill="#fff" stroke="#000" stroke-width="1.4"/>
<circle cx="337.4" cy="225.3" r="4.8" fill="#000"/>
<rect x="239.8" y="259.3" width="7.8" height="7.8" fill="#fff" stroke="#000" stroke-width="1.4"/>
<circle cx="337.4" cy="263.0" r="4.05" fill="#fff" stroke="#000" stroke-width="1.45"/>
</svg>
</body></html>
